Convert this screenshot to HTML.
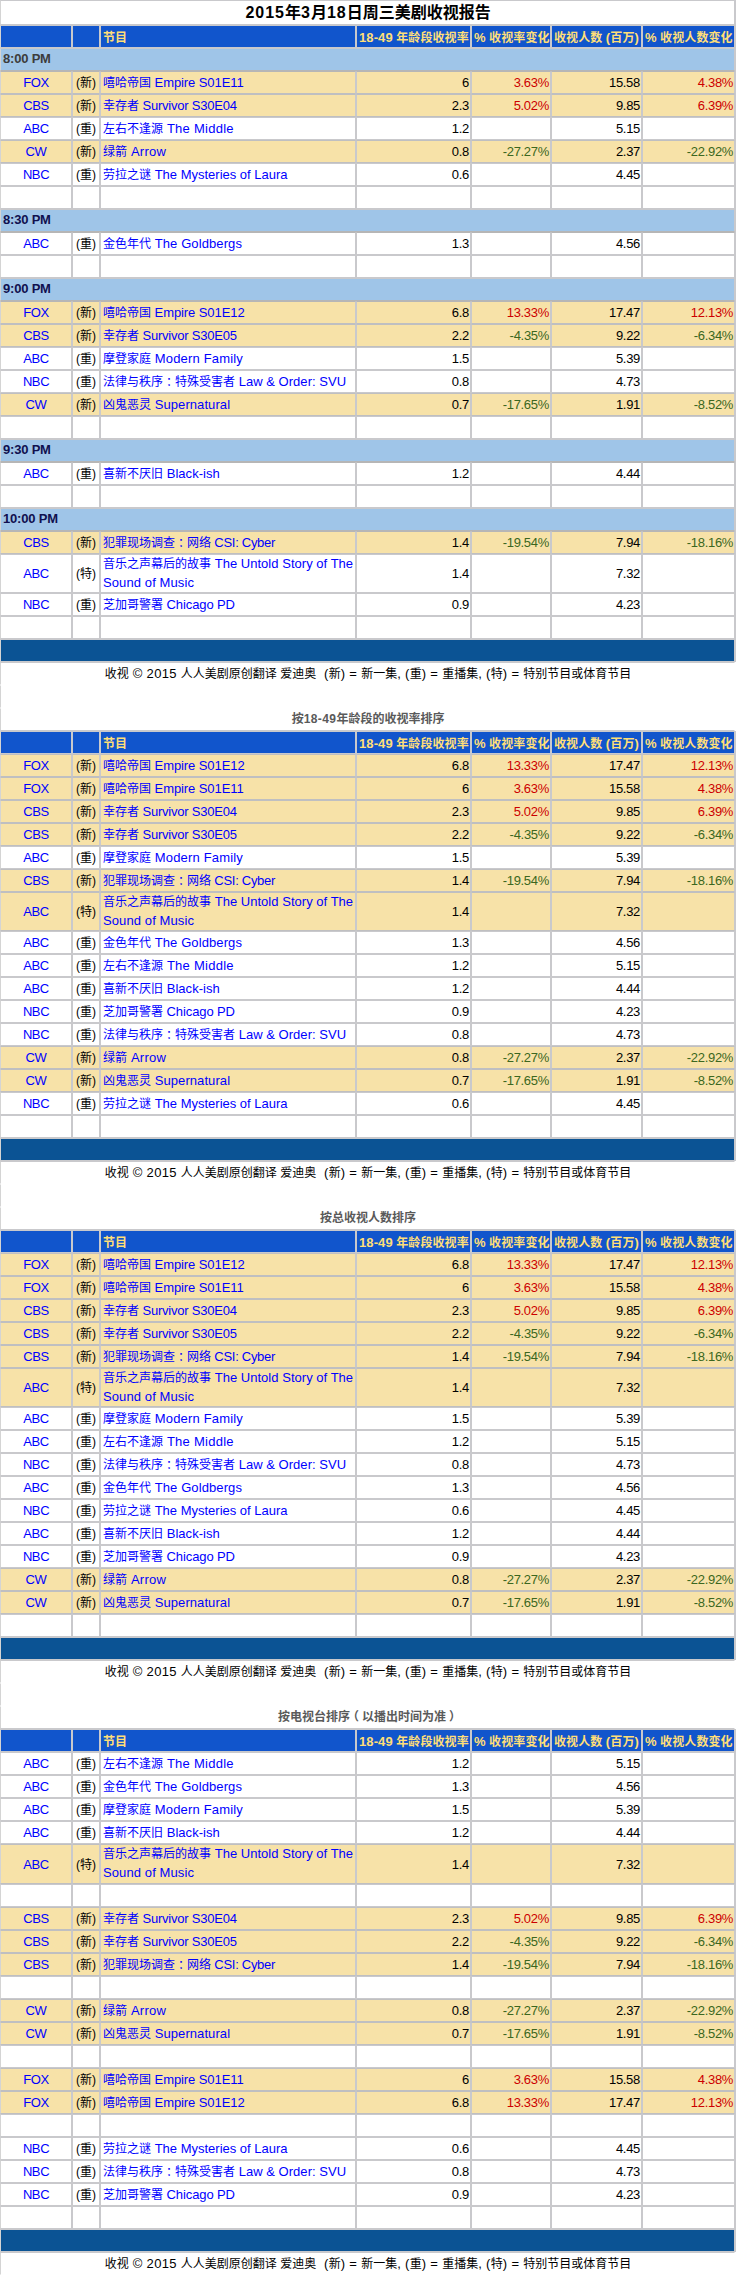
<!DOCTYPE html>
<html lang="zh-CN"><head><meta charset="utf-8"><title>2015年3月18日周三美剧收视报告</title>
<style>
html,body{margin:0;padding:0;background:#fff;}
body{width:736px;overflow-x:hidden;font-family:"Liberation Sans","Noto Sans CJK SC",sans-serif;font-size:12px;color:#000;}
table{border-collapse:separate;border-spacing:0;table-layout:fixed;width:736px;margin:0;}
td{border:1px solid #c9c9cc;padding:0 1px 0 2px;height:21px;line-height:21px;box-sizing:border-box;height:23px;white-space:nowrap;overflow:hidden;vertical-align:middle;font-size:12px;}
.l{font-size:13px;line-height:0;}
td.e{border:0 !important;border-left:1px solid #c9c9cc !important;padding:0;}
tr.ti td{font-size:16px;font-weight:bold;text-align:center;height:25px;line-height:22px;}
tr.ti td.e{}
tr.ti .l{font-size:16px;letter-spacing:1px;}
tr.h td{background:#1155cc;color:#ffdf78;font-weight:bold;padding-top:4px;line-height:17px;letter-spacing:0.1px;}
tr.h td.e{background:none;}
tr.h .l{font-size:13px;}
tr.tm td{background:#9fc5e8;color:#3c3c3c;font-weight:bold;font-size:13px;padding-bottom:2px;line-height:19px;letter-spacing:-0.2px;border-bottom-color:#b6b6b6;}
tr.tm td.e{background:none;}
tr.y td{background:#f7e2a8;}
tr.y td.e{background:none;}
tr.bar td{background:#0b5394;}
tr.bar td.e{background:none;}
td.c{text-align:center;padding:0;}
td.net{color:#0000ff;font-size:13px;letter-spacing:-0.4px;}
td.tag{color:#000;padding-top:2px;line-height:19px;}
td.nm{color:#0000ff;padding-top:2px;line-height:19px;}
td.n{text-align:right;font-size:13px;letter-spacing:-0.3px;}
td.pos{color:#cc0000;}
td.neg{color:#3b6720;}
tr.t2 td{height:39px;}
tr.t3 td{height:40px;}
tr.t2 td.nm,tr.t3 td.nm{padding-top:0;vertical-align:top;}
.two{height:37px;line-height:19px;overflow:hidden;}
tr.w td{border-color:#fff;border-left-color:#c9c9cc;text-align:center;}
tr.w td.e{border-left-color:#fff !important;}
tr.cr td{border-top-color:#c9c9cc;padding-top:2px;line-height:19px;}
tr.st td{border-bottom-color:#c9c9cc;font-weight:bold;color:#5a5a5a;}
tr.st .l{font-size:12px;letter-spacing:0.4px;}
tr.kE11 td.nm .l{letter-spacing:-0.08px;}
tr.kE12 td.nm .l{letter-spacing:-0.08px;}
tr.kS04 td.nm .l{letter-spacing:-0.21px;}
tr.kS05 td.nm .l{letter-spacing:-0.21px;}
tr.kMID td.nm .l{letter-spacing:0.26px;}
tr.kARR td.nm .l{letter-spacing:0.27px;}
tr.kLAU td.nm .l{letter-spacing:0.00px;}
tr.kGOL td.nm .l{letter-spacing:0.10px;}
tr.kMOD td.nm .l{letter-spacing:0.17px;}
tr.kSVU td.nm .l{letter-spacing:0.03px;}
tr.kSUP td.nm .l{letter-spacing:0.08px;}
tr.kBLA td.nm .l{letter-spacing:0.05px;}
tr.kCSI td.nm .l{letter-spacing:-0.29px;}
tr.kMUS td.nm .l{letter-spacing:0.03px;}
tr.kMUS td.nm .l:last-child{letter-spacing:0.1px;}
tr.kCHI td.nm .l{letter-spacing:-0.10px;}
tr.cr .l{letter-spacing:0.33px;}
tr.nv td{color:#10104f;}
tr.y td{border-top-color:#bfbfc1;border-bottom-color:#bfbfc1;}
.fc{position:relative;left:3px;}
.fl{position:relative;left:-3px;}
.fr{position:relative;left:3px;}
td:first-child{border-left-color:#d4d4d4 !important;}
tr.tm + tr td{border-top-color:#b6b6b6;}

</style></head><body>
<table cellspacing="0" cellpadding="0">
<colgroup><col style="width:72px"><col style="width:28px"><col style="width:256px"><col style="width:115px"><col style="width:80px"><col style="width:91px"><col style="width:93px"><col style="width:1px"></colgroup>
<tr class="ti"><td colspan="7"><span class="l">2015</span>年<span class="l">3</span>月<span class="l">18</span>日周三美剧收视报告</td><td class="e"></td></tr>
<tr class="h"><td></td><td></td><td>节目</td><td><span class="l">18-49</span> 年龄段收视率</td><td><span class="l">%</span> 收视率变化</td><td>收视人数 <span class="l">(</span>百万<span class="l">)</span></td><td><span class="l">%</span> 收视人数变化</td><td class="e"></td></tr>
<tr class="tm"><td colspan="7">8:00 PM</td><td class="e"></td></tr>
<tr class="kE11 y"><td class="c net">FOX</td><td class="c tag">(新)</td><td class="nm">嘻哈帝国<span class="l"> Empire S01E11</span></td><td class="n">6</td><td class="n pos">3.63%</td><td class="n">15.58</td><td class="n pos">4.38%</td><td class="e"></td></tr>
<tr class="kS04 y"><td class="c net">CBS</td><td class="c tag">(新)</td><td class="nm">幸存者<span class="l"> Survivor S30E04</span></td><td class="n">2.3</td><td class="n pos">5.02%</td><td class="n">9.85</td><td class="n pos">6.39%</td><td class="e"></td></tr>
<tr class="kMID"><td class="c net">ABC</td><td class="c tag">(重)</td><td class="nm">左右不逢源<span class="l"> The Middle</span></td><td class="n">1.2</td><td class="n"></td><td class="n">5.15</td><td class="n"></td><td class="e"></td></tr>
<tr class="kARR y"><td class="c net">CW</td><td class="c tag">(新)</td><td class="nm">绿箭<span class="l"> Arrow</span></td><td class="n">0.8</td><td class="n neg">-27.27%</td><td class="n">2.37</td><td class="n neg">-22.92%</td><td class="e"></td></tr>
<tr class="kLAU"><td class="c net">NBC</td><td class="c tag">(重)</td><td class="nm">劳拉之谜<span class="l"> The Mysteries of Laura</span></td><td class="n">0.6</td><td class="n"></td><td class="n">4.45</td><td class="n"></td><td class="e"></td></tr>
<tr><td></td><td></td><td></td><td></td><td></td><td></td><td></td><td class="e"></td></tr>
<tr class="tm nv"><td colspan="7">8:30 PM</td><td class="e"></td></tr>
<tr class="kGOL"><td class="c net">ABC</td><td class="c tag">(重)</td><td class="nm">金色年代<span class="l"> The Goldbergs</span></td><td class="n">1.3</td><td class="n"></td><td class="n">4.56</td><td class="n"></td><td class="e"></td></tr>
<tr><td></td><td></td><td></td><td></td><td></td><td></td><td></td><td class="e"></td></tr>
<tr class="tm nv"><td colspan="7">9:00 PM</td><td class="e"></td></tr>
<tr class="kE12 y"><td class="c net">FOX</td><td class="c tag">(新)</td><td class="nm">嘻哈帝国<span class="l"> Empire S01E12</span></td><td class="n">6.8</td><td class="n pos">13.33%</td><td class="n">17.47</td><td class="n pos">12.13%</td><td class="e"></td></tr>
<tr class="kS05 y"><td class="c net">CBS</td><td class="c tag">(新)</td><td class="nm">幸存者<span class="l"> Survivor S30E05</span></td><td class="n">2.2</td><td class="n neg">-4.35%</td><td class="n">9.22</td><td class="n neg">-6.34%</td><td class="e"></td></tr>
<tr class="kMOD"><td class="c net">ABC</td><td class="c tag">(重)</td><td class="nm">摩登家庭<span class="l"> Modern Family</span></td><td class="n">1.5</td><td class="n"></td><td class="n">5.39</td><td class="n"></td><td class="e"></td></tr>
<tr class="kSVU"><td class="c net">NBC</td><td class="c tag">(重)</td><td class="nm">法律与秩序<span class="fc">：</span>特殊受害者<span class="l"> Law &amp; Order: SVU</span></td><td class="n">0.8</td><td class="n"></td><td class="n">4.73</td><td class="n"></td><td class="e"></td></tr>
<tr class="kSUP y"><td class="c net">CW</td><td class="c tag">(新)</td><td class="nm">凶鬼恶灵<span class="l"> Supernatural</span></td><td class="n">0.7</td><td class="n neg">-17.65%</td><td class="n">1.91</td><td class="n neg">-8.52%</td><td class="e"></td></tr>
<tr><td></td><td></td><td></td><td></td><td></td><td></td><td></td><td class="e"></td></tr>
<tr class="tm nv"><td colspan="7">9:30 PM</td><td class="e"></td></tr>
<tr class="kBLA"><td class="c net">ABC</td><td class="c tag">(重)</td><td class="nm">喜新不厌旧<span class="l"> Black-ish</span></td><td class="n">1.2</td><td class="n"></td><td class="n">4.44</td><td class="n"></td><td class="e"></td></tr>
<tr><td></td><td></td><td></td><td></td><td></td><td></td><td></td><td class="e"></td></tr>
<tr class="tm nv"><td colspan="7">10:00 PM</td><td class="e"></td></tr>
<tr class="kCSI y"><td class="c net">CBS</td><td class="c tag">(新)</td><td class="nm">犯罪现场调查<span class="fc">：</span>网络<span class="l"> CSI: Cyber</span></td><td class="n">1.4</td><td class="n neg">-19.54%</td><td class="n">7.94</td><td class="n neg">-18.16%</td><td class="e"></td></tr>
<tr class="kMUS t2"><td class="c net">ABC</td><td class="c tag">(特)</td><td class="nm"><div class="two">音乐之声幕后的故事<span class="l"> The Untold Story of The</span><br><span class="l">Sound of Music</span></div></td><td class="n">1.4</td><td class="n"></td><td class="n">7.32</td><td class="n"></td><td class="e"></td></tr>
<tr class="kCHI"><td class="c net">NBC</td><td class="c tag">(重)</td><td class="nm">芝加哥警署<span class="l"> Chicago PD</span></td><td class="n">0.9</td><td class="n"></td><td class="n">4.23</td><td class="n"></td><td class="e"></td></tr>
<tr><td></td><td></td><td></td><td></td><td></td><td></td><td></td><td class="e"></td></tr>
<tr class="bar"><td colspan="7"></td><td class="e"></td></tr>
<tr class="w cr"><td colspan="7">收视<span class="l"> © 2015 </span>人人美剧原创翻译 爱迪奥<span class="l">  (</span>新<span class="l">) = </span>新一集<span class="l">, (</span>重<span class="l">) = </span>重播集<span class="l">, (</span>特<span class="l">) = </span>特别节目或体育节目</td><td class="e"></td></tr>
<tr class="w bl"><td colspan="7"></td><td class="e"></td></tr>
<tr class="w st"><td colspan="7">按<span class="l">18-49</span>年龄段的收视率排序</td><td class="e"></td></tr>
<tr class="h"><td></td><td></td><td>节目</td><td><span class="l">18-49</span> 年龄段收视率</td><td><span class="l">%</span> 收视率变化</td><td>收视人数 <span class="l">(</span>百万<span class="l">)</span></td><td><span class="l">%</span> 收视人数变化</td><td class="e"></td></tr>
<tr class="kE12 y"><td class="c net">FOX</td><td class="c tag">(新)</td><td class="nm">嘻哈帝国<span class="l"> Empire S01E12</span></td><td class="n">6.8</td><td class="n pos">13.33%</td><td class="n">17.47</td><td class="n pos">12.13%</td><td class="e"></td></tr>
<tr class="kE11 y"><td class="c net">FOX</td><td class="c tag">(新)</td><td class="nm">嘻哈帝国<span class="l"> Empire S01E11</span></td><td class="n">6</td><td class="n pos">3.63%</td><td class="n">15.58</td><td class="n pos">4.38%</td><td class="e"></td></tr>
<tr class="kS04 y"><td class="c net">CBS</td><td class="c tag">(新)</td><td class="nm">幸存者<span class="l"> Survivor S30E04</span></td><td class="n">2.3</td><td class="n pos">5.02%</td><td class="n">9.85</td><td class="n pos">6.39%</td><td class="e"></td></tr>
<tr class="kS05 y"><td class="c net">CBS</td><td class="c tag">(新)</td><td class="nm">幸存者<span class="l"> Survivor S30E05</span></td><td class="n">2.2</td><td class="n neg">-4.35%</td><td class="n">9.22</td><td class="n neg">-6.34%</td><td class="e"></td></tr>
<tr class="kMOD"><td class="c net">ABC</td><td class="c tag">(重)</td><td class="nm">摩登家庭<span class="l"> Modern Family</span></td><td class="n">1.5</td><td class="n"></td><td class="n">5.39</td><td class="n"></td><td class="e"></td></tr>
<tr class="kCSI y"><td class="c net">CBS</td><td class="c tag">(新)</td><td class="nm">犯罪现场调查<span class="fc">：</span>网络<span class="l"> CSI: Cyber</span></td><td class="n">1.4</td><td class="n neg">-19.54%</td><td class="n">7.94</td><td class="n neg">-18.16%</td><td class="e"></td></tr>
<tr class="kMUS y t2"><td class="c net">ABC</td><td class="c tag">(特)</td><td class="nm"><div class="two">音乐之声幕后的故事<span class="l"> The Untold Story of The</span><br><span class="l">Sound of Music</span></div></td><td class="n">1.4</td><td class="n"></td><td class="n">7.32</td><td class="n"></td><td class="e"></td></tr>
<tr class="kGOL"><td class="c net">ABC</td><td class="c tag">(重)</td><td class="nm">金色年代<span class="l"> The Goldbergs</span></td><td class="n">1.3</td><td class="n"></td><td class="n">4.56</td><td class="n"></td><td class="e"></td></tr>
<tr class="kMID"><td class="c net">ABC</td><td class="c tag">(重)</td><td class="nm">左右不逢源<span class="l"> The Middle</span></td><td class="n">1.2</td><td class="n"></td><td class="n">5.15</td><td class="n"></td><td class="e"></td></tr>
<tr class="kBLA"><td class="c net">ABC</td><td class="c tag">(重)</td><td class="nm">喜新不厌旧<span class="l"> Black-ish</span></td><td class="n">1.2</td><td class="n"></td><td class="n">4.44</td><td class="n"></td><td class="e"></td></tr>
<tr class="kCHI"><td class="c net">NBC</td><td class="c tag">(重)</td><td class="nm">芝加哥警署<span class="l"> Chicago PD</span></td><td class="n">0.9</td><td class="n"></td><td class="n">4.23</td><td class="n"></td><td class="e"></td></tr>
<tr class="kSVU"><td class="c net">NBC</td><td class="c tag">(重)</td><td class="nm">法律与秩序<span class="fc">：</span>特殊受害者<span class="l"> Law &amp; Order: SVU</span></td><td class="n">0.8</td><td class="n"></td><td class="n">4.73</td><td class="n"></td><td class="e"></td></tr>
<tr class="kARR y"><td class="c net">CW</td><td class="c tag">(新)</td><td class="nm">绿箭<span class="l"> Arrow</span></td><td class="n">0.8</td><td class="n neg">-27.27%</td><td class="n">2.37</td><td class="n neg">-22.92%</td><td class="e"></td></tr>
<tr class="kSUP y"><td class="c net">CW</td><td class="c tag">(新)</td><td class="nm">凶鬼恶灵<span class="l"> Supernatural</span></td><td class="n">0.7</td><td class="n neg">-17.65%</td><td class="n">1.91</td><td class="n neg">-8.52%</td><td class="e"></td></tr>
<tr class="kLAU"><td class="c net">NBC</td><td class="c tag">(重)</td><td class="nm">劳拉之谜<span class="l"> The Mysteries of Laura</span></td><td class="n">0.6</td><td class="n"></td><td class="n">4.45</td><td class="n"></td><td class="e"></td></tr>
<tr><td></td><td></td><td></td><td></td><td></td><td></td><td></td><td class="e"></td></tr>
<tr class="bar"><td colspan="7"></td><td class="e"></td></tr>
<tr class="w cr"><td colspan="7">收视<span class="l"> © 2015 </span>人人美剧原创翻译 爱迪奥<span class="l">  (</span>新<span class="l">) = </span>新一集<span class="l">, (</span>重<span class="l">) = </span>重播集<span class="l">, (</span>特<span class="l">) = </span>特别节目或体育节目</td><td class="e"></td></tr>
<tr class="w bl"><td colspan="7"></td><td class="e"></td></tr>
<tr class="w st"><td colspan="7">按总收视人数排序</td><td class="e"></td></tr>
<tr class="h"><td></td><td></td><td>节目</td><td><span class="l">18-49</span> 年龄段收视率</td><td><span class="l">%</span> 收视率变化</td><td>收视人数 <span class="l">(</span>百万<span class="l">)</span></td><td><span class="l">%</span> 收视人数变化</td><td class="e"></td></tr>
<tr class="kE12 y"><td class="c net">FOX</td><td class="c tag">(新)</td><td class="nm">嘻哈帝国<span class="l"> Empire S01E12</span></td><td class="n">6.8</td><td class="n pos">13.33%</td><td class="n">17.47</td><td class="n pos">12.13%</td><td class="e"></td></tr>
<tr class="kE11 y"><td class="c net">FOX</td><td class="c tag">(新)</td><td class="nm">嘻哈帝国<span class="l"> Empire S01E11</span></td><td class="n">6</td><td class="n pos">3.63%</td><td class="n">15.58</td><td class="n pos">4.38%</td><td class="e"></td></tr>
<tr class="kS04 y"><td class="c net">CBS</td><td class="c tag">(新)</td><td class="nm">幸存者<span class="l"> Survivor S30E04</span></td><td class="n">2.3</td><td class="n pos">5.02%</td><td class="n">9.85</td><td class="n pos">6.39%</td><td class="e"></td></tr>
<tr class="kS05 y"><td class="c net">CBS</td><td class="c tag">(新)</td><td class="nm">幸存者<span class="l"> Survivor S30E05</span></td><td class="n">2.2</td><td class="n neg">-4.35%</td><td class="n">9.22</td><td class="n neg">-6.34%</td><td class="e"></td></tr>
<tr class="kCSI y"><td class="c net">CBS</td><td class="c tag">(新)</td><td class="nm">犯罪现场调查<span class="fc">：</span>网络<span class="l"> CSI: Cyber</span></td><td class="n">1.4</td><td class="n neg">-19.54%</td><td class="n">7.94</td><td class="n neg">-18.16%</td><td class="e"></td></tr>
<tr class="kMUS y t2"><td class="c net">ABC</td><td class="c tag">(特)</td><td class="nm"><div class="two">音乐之声幕后的故事<span class="l"> The Untold Story of The</span><br><span class="l">Sound of Music</span></div></td><td class="n">1.4</td><td class="n"></td><td class="n">7.32</td><td class="n"></td><td class="e"></td></tr>
<tr class="kMOD"><td class="c net">ABC</td><td class="c tag">(重)</td><td class="nm">摩登家庭<span class="l"> Modern Family</span></td><td class="n">1.5</td><td class="n"></td><td class="n">5.39</td><td class="n"></td><td class="e"></td></tr>
<tr class="kMID"><td class="c net">ABC</td><td class="c tag">(重)</td><td class="nm">左右不逢源<span class="l"> The Middle</span></td><td class="n">1.2</td><td class="n"></td><td class="n">5.15</td><td class="n"></td><td class="e"></td></tr>
<tr class="kSVU"><td class="c net">NBC</td><td class="c tag">(重)</td><td class="nm">法律与秩序<span class="fc">：</span>特殊受害者<span class="l"> Law &amp; Order: SVU</span></td><td class="n">0.8</td><td class="n"></td><td class="n">4.73</td><td class="n"></td><td class="e"></td></tr>
<tr class="kGOL"><td class="c net">ABC</td><td class="c tag">(重)</td><td class="nm">金色年代<span class="l"> The Goldbergs</span></td><td class="n">1.3</td><td class="n"></td><td class="n">4.56</td><td class="n"></td><td class="e"></td></tr>
<tr class="kLAU"><td class="c net">NBC</td><td class="c tag">(重)</td><td class="nm">劳拉之谜<span class="l"> The Mysteries of Laura</span></td><td class="n">0.6</td><td class="n"></td><td class="n">4.45</td><td class="n"></td><td class="e"></td></tr>
<tr class="kBLA"><td class="c net">ABC</td><td class="c tag">(重)</td><td class="nm">喜新不厌旧<span class="l"> Black-ish</span></td><td class="n">1.2</td><td class="n"></td><td class="n">4.44</td><td class="n"></td><td class="e"></td></tr>
<tr class="kCHI"><td class="c net">NBC</td><td class="c tag">(重)</td><td class="nm">芝加哥警署<span class="l"> Chicago PD</span></td><td class="n">0.9</td><td class="n"></td><td class="n">4.23</td><td class="n"></td><td class="e"></td></tr>
<tr class="kARR y"><td class="c net">CW</td><td class="c tag">(新)</td><td class="nm">绿箭<span class="l"> Arrow</span></td><td class="n">0.8</td><td class="n neg">-27.27%</td><td class="n">2.37</td><td class="n neg">-22.92%</td><td class="e"></td></tr>
<tr class="kSUP y"><td class="c net">CW</td><td class="c tag">(新)</td><td class="nm">凶鬼恶灵<span class="l"> Supernatural</span></td><td class="n">0.7</td><td class="n neg">-17.65%</td><td class="n">1.91</td><td class="n neg">-8.52%</td><td class="e"></td></tr>
<tr><td></td><td></td><td></td><td></td><td></td><td></td><td></td><td class="e"></td></tr>
<tr class="bar"><td colspan="7"></td><td class="e"></td></tr>
<tr class="w cr"><td colspan="7">收视<span class="l"> © 2015 </span>人人美剧原创翻译 爱迪奥<span class="l">  (</span>新<span class="l">) = </span>新一集<span class="l">, (</span>重<span class="l">) = </span>重播集<span class="l">, (</span>特<span class="l">) = </span>特别节目或体育节目</td><td class="e"></td></tr>
<tr class="w bl"><td colspan="7"></td><td class="e"></td></tr>
<tr class="w st"><td colspan="7">按电视台排序<span class="fl">（</span>以播出时间为准<span class="fr">）</span></td><td class="e"></td></tr>
<tr class="h"><td></td><td></td><td>节目</td><td><span class="l">18-49</span> 年龄段收视率</td><td><span class="l">%</span> 收视率变化</td><td>收视人数 <span class="l">(</span>百万<span class="l">)</span></td><td><span class="l">%</span> 收视人数变化</td><td class="e"></td></tr>
<tr class="kMID"><td class="c net">ABC</td><td class="c tag">(重)</td><td class="nm">左右不逢源<span class="l"> The Middle</span></td><td class="n">1.2</td><td class="n"></td><td class="n">5.15</td><td class="n"></td><td class="e"></td></tr>
<tr class="kGOL"><td class="c net">ABC</td><td class="c tag">(重)</td><td class="nm">金色年代<span class="l"> The Goldbergs</span></td><td class="n">1.3</td><td class="n"></td><td class="n">4.56</td><td class="n"></td><td class="e"></td></tr>
<tr class="kMOD"><td class="c net">ABC</td><td class="c tag">(重)</td><td class="nm">摩登家庭<span class="l"> Modern Family</span></td><td class="n">1.5</td><td class="n"></td><td class="n">5.39</td><td class="n"></td><td class="e"></td></tr>
<tr class="kBLA"><td class="c net">ABC</td><td class="c tag">(重)</td><td class="nm">喜新不厌旧<span class="l"> Black-ish</span></td><td class="n">1.2</td><td class="n"></td><td class="n">4.44</td><td class="n"></td><td class="e"></td></tr>
<tr class="kMUS y t3"><td class="c net">ABC</td><td class="c tag">(特)</td><td class="nm"><div class="two">音乐之声幕后的故事<span class="l"> The Untold Story of The</span><br><span class="l">Sound of Music</span></div></td><td class="n">1.4</td><td class="n"></td><td class="n">7.32</td><td class="n"></td><td class="e"></td></tr>
<tr><td></td><td></td><td></td><td></td><td></td><td></td><td></td><td class="e"></td></tr>
<tr class="kS04 y"><td class="c net">CBS</td><td class="c tag">(新)</td><td class="nm">幸存者<span class="l"> Survivor S30E04</span></td><td class="n">2.3</td><td class="n pos">5.02%</td><td class="n">9.85</td><td class="n pos">6.39%</td><td class="e"></td></tr>
<tr class="kS05 y"><td class="c net">CBS</td><td class="c tag">(新)</td><td class="nm">幸存者<span class="l"> Survivor S30E05</span></td><td class="n">2.2</td><td class="n neg">-4.35%</td><td class="n">9.22</td><td class="n neg">-6.34%</td><td class="e"></td></tr>
<tr class="kCSI y"><td class="c net">CBS</td><td class="c tag">(新)</td><td class="nm">犯罪现场调查<span class="fc">：</span>网络<span class="l"> CSI: Cyber</span></td><td class="n">1.4</td><td class="n neg">-19.54%</td><td class="n">7.94</td><td class="n neg">-18.16%</td><td class="e"></td></tr>
<tr><td></td><td></td><td></td><td></td><td></td><td></td><td></td><td class="e"></td></tr>
<tr class="kARR y"><td class="c net">CW</td><td class="c tag">(新)</td><td class="nm">绿箭<span class="l"> Arrow</span></td><td class="n">0.8</td><td class="n neg">-27.27%</td><td class="n">2.37</td><td class="n neg">-22.92%</td><td class="e"></td></tr>
<tr class="kSUP y"><td class="c net">CW</td><td class="c tag">(新)</td><td class="nm">凶鬼恶灵<span class="l"> Supernatural</span></td><td class="n">0.7</td><td class="n neg">-17.65%</td><td class="n">1.91</td><td class="n neg">-8.52%</td><td class="e"></td></tr>
<tr><td></td><td></td><td></td><td></td><td></td><td></td><td></td><td class="e"></td></tr>
<tr class="kE11 y"><td class="c net">FOX</td><td class="c tag">(新)</td><td class="nm">嘻哈帝国<span class="l"> Empire S01E11</span></td><td class="n">6</td><td class="n pos">3.63%</td><td class="n">15.58</td><td class="n pos">4.38%</td><td class="e"></td></tr>
<tr class="kE12 y"><td class="c net">FOX</td><td class="c tag">(新)</td><td class="nm">嘻哈帝国<span class="l"> Empire S01E12</span></td><td class="n">6.8</td><td class="n pos">13.33%</td><td class="n">17.47</td><td class="n pos">12.13%</td><td class="e"></td></tr>
<tr><td></td><td></td><td></td><td></td><td></td><td></td><td></td><td class="e"></td></tr>
<tr class="kLAU"><td class="c net">NBC</td><td class="c tag">(重)</td><td class="nm">劳拉之谜<span class="l"> The Mysteries of Laura</span></td><td class="n">0.6</td><td class="n"></td><td class="n">4.45</td><td class="n"></td><td class="e"></td></tr>
<tr class="kSVU"><td class="c net">NBC</td><td class="c tag">(重)</td><td class="nm">法律与秩序<span class="fc">：</span>特殊受害者<span class="l"> Law &amp; Order: SVU</span></td><td class="n">0.8</td><td class="n"></td><td class="n">4.73</td><td class="n"></td><td class="e"></td></tr>
<tr class="kCHI"><td class="c net">NBC</td><td class="c tag">(重)</td><td class="nm">芝加哥警署<span class="l"> Chicago PD</span></td><td class="n">0.9</td><td class="n"></td><td class="n">4.23</td><td class="n"></td><td class="e"></td></tr>
<tr><td></td><td></td><td></td><td></td><td></td><td></td><td></td><td class="e"></td></tr>
<tr class="bar"><td colspan="7"></td><td class="e"></td></tr>
<tr class="w cr last"><td colspan="7">收视<span class="l"> © 2015 </span>人人美剧原创翻译 爱迪奥<span class="l">  (</span>新<span class="l">) = </span>新一集<span class="l">, (</span>重<span class="l">) = </span>重播集<span class="l">, (</span>特<span class="l">) = </span>特别节目或体育节目</td><td class="e"></td></tr>
</table>
</body></html>
